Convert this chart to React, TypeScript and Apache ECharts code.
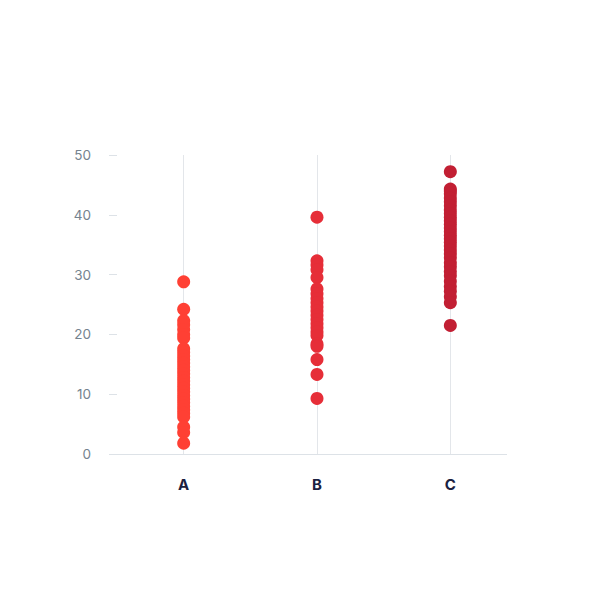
import React, { useEffect, useRef } from "react";
import * as echarts from "echarts";

const categories = ["A", "B", "C"];
const yTicks = { min: 0, max: 50, interval: 10 };

const valuesA = [28.8, 24.2, 22.3, 21.6, 20.8, 20.0, 19.4, 17.6, 17.0, 16.4, 15.8, 15.2, 14.6, 14.0, 13.4, 12.8, 12.2, 11.6, 11.0, 10.4, 9.8, 9.2, 8.6, 8.0, 7.4, 6.8, 6.2, 4.5, 3.6, 1.8];
const valuesB = [39.6, 32.3, 31.6, 30.8, 29.5, 27.6, 26.8, 26.0, 25.3, 24.6, 23.9, 23.2, 22.5, 21.8, 21.1, 20.4, 19.8, 18.4, 18.0, 15.8, 13.3, 9.3];
const valuesC = [47.2, 44.3, 44.0, 43.5, 42.8, 42.2, 41.5, 40.8, 40.2, 39.6, 39.0, 38.4, 37.8, 37.2, 36.6, 36.0, 35.4, 34.8, 34.1, 33.5, 32.8, 32.0, 31.3, 30.5, 29.8, 28.9, 28.0, 27.2, 26.3, 25.3, 21.5];

const seriesValues = [valuesA, valuesB, valuesC];
const colors = ["#ff4034", "#e62e38", "#c21f33"];

export default function App() {
  const ref = useRef<HTMLDivElement>(null);
  useEffect(() => {
    if (!ref.current) return;
    const chart = echarts.init(ref.current, null, { renderer: "svg" });
    chart.setOption({
      animation: false,
      backgroundColor: "#ffffff",
      grid: { left: 117, right: 83, top: 155, bottom: 145 },
      xAxis: {
        type: "category",
        data: categories,
        axisLine: { show: false },
        axisTick: { show: false },
        splitLine: { show: false },
        axisLabel: {
          color: "#1b2140",
          fontFamily: "Inter",
          fontWeight: "bold",
          fontSize: 15,
          margin: 23,
        },
      },
      yAxis: {
        type: "value",
        min: yTicks.min,
        max: yTicks.max,
        interval: yTicks.interval,
        axisLine: { show: false },
        axisTick: { show: true, length: 8, lineStyle: { color: "#dde2e7" } },
        splitLine: { show: false },
        axisLabel: {
          color: "#75838f",
          fontFamily: "Inter",
          fontSize: 13.5,
          margin: 26,
        },
      },
      graphic: [
        {
          type: "line",
          shape: { x1: 109, y1: 454.5, x2: 507, y2: 454.5 },
          style: { stroke: "#dde2e7", lineWidth: 1 },
          silent: true,
          z: 0,
        },
      ],
      series: seriesValues.map((vals, i) => ({
        type: "scatter",
        name: categories[i],
        symbolSize: 13,
        itemStyle: { color: colors[i], opacity: 1 },
        data: vals.map((v) => [categories[i], v]),
        markLine: {
          silent: true,
          symbol: "none",
          label: { show: false },
          lineStyle: { color: "#e3e6ea", type: "solid", width: 1 },
          data: [{ xAxis: categories[i] }],
          z: 1,
        },
        z: 3,
      })),
    });
    return () => chart.dispose();
  }, []);
  return (
    <div
      ref={ref}
      style={{ position: "fixed", left: 0, top: 0, width: 600, height: 599 }}
    />
  );
}
